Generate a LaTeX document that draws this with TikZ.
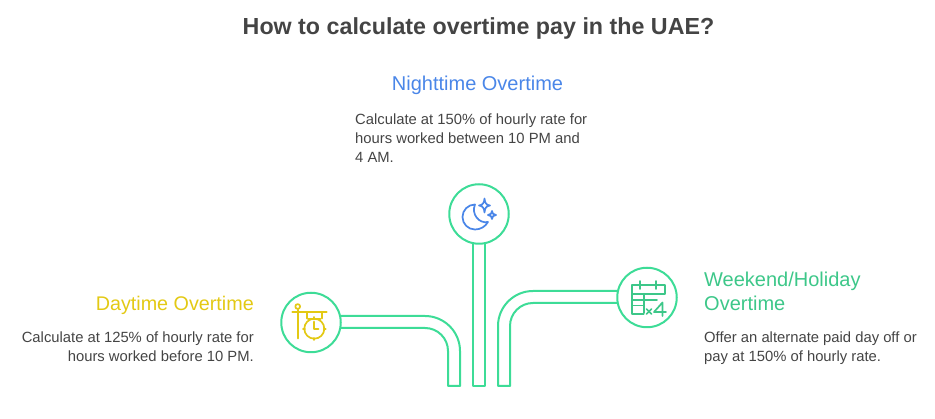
\documentclass[tikz,border=0pt]{standalone}
\usepackage{fontspec}
\setmainfont{Liberation Sans}
\definecolor{chan}{HTML}{3DDC97}
\definecolor{ink}{HTML}{444444}
\definecolor{nightc}{HTML}{4A86E8}
\definecolor{dayc}{HTML}{E3C914}
\definecolor{weekc}{HTML}{3DC789}
\tikzset{
  x=1pt,y=-1pt,
  channel/.style={draw=chan,line width=2pt,fill=white,line join=round},
  hub/.style={circle,draw=chan,line width=2pt,fill=white,minimum size=59.5pt,inner sep=0pt},
  head/.style={font=\fontsize{20}{24}\selectfont,inner sep=0pt},
  body/.style={font=\fontsize{14.8}{19}\selectfont,text=ink,inner sep=0pt},
  title/.style={font=\fontsize{23.25}{28}\bfseries\selectfont,text=ink,inner sep=0pt},
  glyph/.style={line width=1.7pt,line cap=round,line join=round}
}
\begin{document}
\begin{tikzpicture}
\useasboundingbox (0,0) rectangle (935,419);
\node[title] (ttl) at (478.5,28) {How to calculate overtime pay in the UAE?};
% channels
\coordinate (dayA) at (311,316);
\coordinate (midA) at (473,214);
\coordinate (wkA) at (647,291);
\draw[channel] (dayA) -- (425,316) .. controls (444.3,316) and (460,331.7) .. (460,351) -- (460,386) -- (448,386) -- (448,351) .. controls (448,338.3) and (437.7,328) .. (425,328) -- (311,328) -- cycle;
\draw[channel] (midA) -- (473,386) -- (485,386) -- (485,214) -- cycle;
\draw[channel] (wkA) -- (533,291) .. controls (513.7,291) and (498,306.7) .. (498,326) -- (498,386) -- (510,386) -- (510,326) .. controls (510,313.3) and (520.3,303) .. (533,303) -- (647,303) -- cycle;
% hubs
\node[hub] (day) at (311,322.5) {};
\node[hub] (night) at (479,214) {};
\node[hub] (week) at (647,297.5) {};
% labels
\node[head,text=nightc,anchor=center] (nh) at (477.5,85) {Nighttime Overtime};
\node[body,align=left,anchor=north west] (nb) at (355,114) {Calculate at 150\% of hourly rate for\\hours worked between 10 PM and\\4 AM.};
\node[head,text=dayc,anchor=east,font=\fontsize{19.75}{24}\selectfont] (dh) at (254,305) {Daytime Overtime};
\node[body,align=right,anchor=north east] (db) at (254,332) {Calculate at 125\% of hourly rate for\\hours worked before 10 PM.};
\node[head,text=weekc,align=left,anchor=north west,font=\fontsize{20}{24}\selectfont] (wh) at (704,272) {Weekend/Holiday\\Overtime};
\node[body,align=left,anchor=north west] (wb) at (704,332) {Offer an alternate paid day off or\\pay at 150\% of hourly rate.};
% moon icon
\begin{scope}[glyph,draw=nightc]
\draw (475,204.5) .. controls (468.1,204.5) and (462.5,210.1) .. (462.5,217)
  .. controls (462.5,223.9) and (468.1,229.5) .. (475,229.5)
  .. controls (480.5,229.5) and (485.5,226.5) .. (488,222)
  .. controls (479,224) and (471,214) .. cycle;
\draw (484.5,198.5) .. controls (485,203) and (486,205) .. (490,205.5)
  .. controls (486,206) and (485,208) .. (484.5,212.5)
  .. controls (484,208) and (483,206) .. (479,205.5)
  .. controls (483,205) and (484,203) .. cycle;
\draw (492,211) .. controls (492.3,213.5) and (493,214.5) .. (496,215)
  .. controls (493,215.5) and (492.3,216.5) .. (492,219)
  .. controls (491.7,216.5) and (491,215.5) .. (488,215)
  .. controls (491,214.5) and (491.7,213.5) .. cycle;
\end{scope}
% clock icon
\begin{scope}[glyph,draw=dayc]
\draw (297.7,309.5) -- (297.7,338.5);
\draw (297.7,306.5) circle[radius=2.4];
\draw (292.3,312) -- (326.7,312);
\draw (306.7,318.5) -- (306.7,312);
\draw (321.7,318.5) -- (321.7,312);
\draw (308,319) -- (320.5,319);
\draw (314.3,328.7) circle[radius=10];
\draw (314.3,321.7) -- (314.3,328.7) -- (318.5,328.7);
\draw (314.3,317) -- (314.3,319.5);
\draw (314.3,338) -- (314.3,340);
\draw (303,328.7) -- (305,328.7);
\draw (323.7,328.7) -- (325.7,328.7);
\end{scope}
% calendar icon
\begin{scope}[glyph,draw=weekc]
\draw (643.7,313.7) -- (632,313.7) -- (632,285.3) -- (665.3,285.3) -- (665.3,293.7) -- (632,293.7);
\draw (640.3,281) -- (640.3,289);
\draw (656.3,281) -- (656.3,289);
\draw (632,300) -- (657,300);
\draw (632,305.5) -- (644,305.5);
\draw (643.7,293.7) -- (643.7,313);
\draw (646.5,309) -- (651.5,314);
\draw (651.5,309) -- (646.5,314);
\draw (662.5,316) -- (662.5,302.5) -- (654,312) -- (666,312);
\end{scope}
\end{tikzpicture}
\end{document}
